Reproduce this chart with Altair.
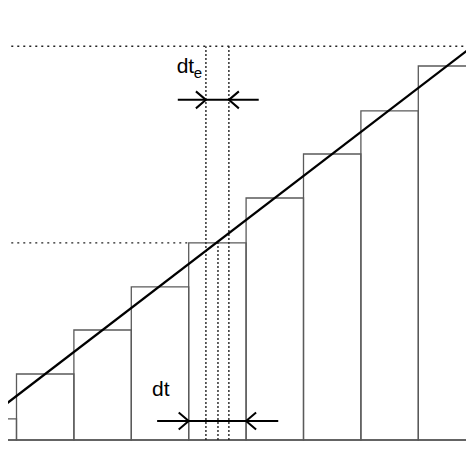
import altair as alt
import pandas as pd

# staircase (sample-and-hold) bars: interval start/end in units of dt, level
bar_start = [-1, 0, 1, 2, 3, 4, 5, 6, 7]
bar_end = [0, 1, 2, 3, 4, 5, 6, 7, 8]
bar_top = [0.48, 1.50, 2.50, 3.48, 4.48, 5.50, 6.50, 7.48, 8.50]

# continuous ramp
ramp_t = [-0.30, 7.95]
ramp_v = [0.70, 8.95]

# dotted horizontal guides
hdot_v = [8.95, 4.48]
hdot_t0 = [-0.30, -0.30]
hdot_t1 = [8.20, 3.00]

# dotted vertical guides
vdot_t = [3.30, 3.70, 3.51]
vdot_top = [8.95, 8.95, 4.48]

# dimension arrows (dt, dt_e)
arrow_v = [0.43, 7.73]
arrow_t0 = [2.45, 2.81]
arrow_t1 = [4.56, 4.22]
head_right_t = [3.00, 3.30]
head_left_t = [4.00, 3.70]

# labels
main_text = ["dt", "dt"]
main_t = [2.36, 2.79]
main_v = [1.00, 8.34]
sub_text = ["e"]
sub_t = [3.09]
sub_v = [8.22]

xs = alt.Scale(domain=[-0.148, 7.831], nice=False, zero=False)
ys = alt.Scale(domain=[-0.591, 9.818], nice=False, zero=False)

def X(f):
    return alt.X(f, type="quantitative", scale=xs, axis=None)

def Y(f):
    return alt.Y(f, type="quantitative", scale=ys, axis=None)

bars_df = pd.DataFrame({"t0": bar_start, "t1": bar_end, "v0": [0] * len(bar_top), "v1": bar_top})
bars = alt.Chart(bars_df).mark_rect(fillOpacity=0, stroke="#5a5a5a", strokeWidth=1.3, clip=True).encode(
    x=X("t0"), x2="t1", y=Y("v0"), y2="v1"
)

base_df = pd.DataFrame({"t0": [-0.3], "t1": [8.2], "v": [0.0]})
baseline = alt.Chart(base_df).mark_rule(color="#5a5a5a", strokeWidth=1.4, clip=True).encode(
    x=X("t0"), x2="t1", y=Y("v")
)

ramp_df = pd.DataFrame({"t": ramp_t, "v": ramp_v})
ramp = alt.Chart(ramp_df).mark_line(color="black", strokeWidth=2.2, clip=True).encode(
    x=X("t"), y=Y("v")
)

hdot_df = pd.DataFrame({"t0": hdot_t0, "t1": hdot_t1, "v": hdot_v})
hdot = alt.Chart(hdot_df).mark_rule(color="#222222", strokeWidth=1.4, strokeDash=[2, 4], clip=True).encode(
    x=X("t0"), x2="t1", y=Y("v")
)

vdot_df = pd.DataFrame({"t": vdot_t, "v0": [0] * len(vdot_t), "v1": vdot_top})
vdot = alt.Chart(vdot_df).mark_rule(color="#222222", strokeWidth=1.4, strokeDash=[2, 2], clip=True).encode(
    x=X("t"), y=Y("v0"), y2="v1"
)

arr_df = pd.DataFrame({"t0": arrow_t0, "t1": arrow_t1, "v": arrow_v})
arrows = alt.Chart(arr_df).mark_rule(color="black", strokeWidth=2).encode(
    x=X("t0"), x2="t1", y=Y("v")
)

hr_df = pd.DataFrame({"t": head_right_t, "v": arrow_v})
head_r = alt.Chart(hr_df).mark_point(
    shape="M-1,-0.85L0,0L-1,0.85", filled=False, size=400, color="black", strokeWidth=2, opacity=1
).encode(x=X("t"), y=Y("v"))

hl_df = pd.DataFrame({"t": head_left_t, "v": arrow_v})
head_l = alt.Chart(hl_df).mark_point(
    shape="M1,-0.85L0,0L1,0.85", filled=False, size=400, color="black", strokeWidth=2, opacity=1
).encode(x=X("t"), y=Y("v"))

lab_df = pd.DataFrame({"t": main_t, "v": main_v, "s": main_text})
labels = alt.Chart(lab_df).mark_text(
    font="Liberation Sans", fontSize=21, align="left", baseline="alphabetic", color="black"
).encode(x=X("t"), y=Y("v"), text="s:N")

sub_df = pd.DataFrame({"t": sub_t, "v": sub_v, "s": sub_text})
sublab = alt.Chart(sub_df).mark_text(
    font="Liberation Sans", fontSize=15, align="left", baseline="alphabetic", color="black"
).encode(x=X("t"), y=Y("v"), text="s:N")

chart = alt.layer(bars, baseline, hdot, vdot, ramp, arrows, head_r, head_l, labels, sublab).properties(
    width=458, height=458, padding=0, autosize="none"
).configure_view(stroke=None)

chart.save("out.html", embed_options={"renderer": "svg", "actions": False})
